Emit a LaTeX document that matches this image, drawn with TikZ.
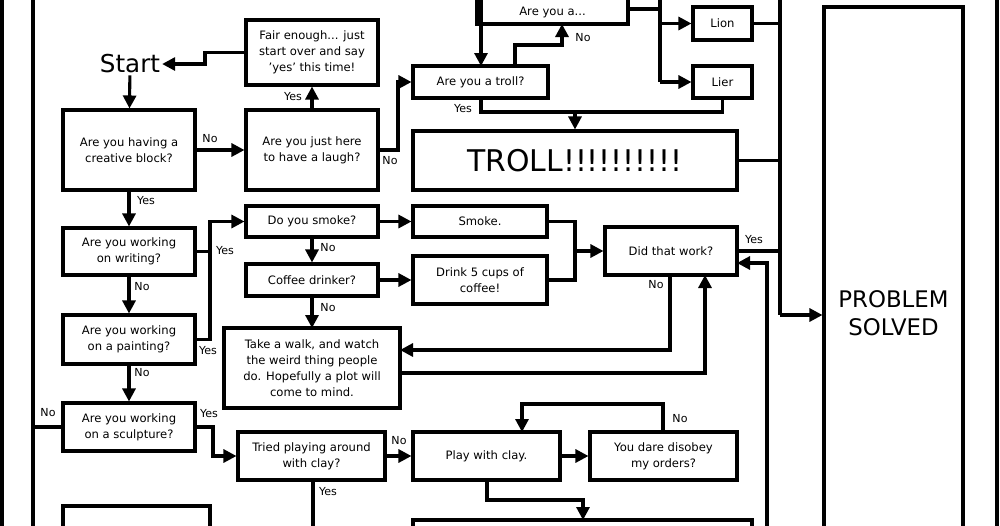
\documentclass[tikz,border=0pt]{standalone}
\usepackage{fontspec}
\setmainfont{DejaVu Sans}
\usetikzlibrary{arrows.meta}
\newcommand\bx[6]{\node[box,minimum width={0.02cm*(#4-#2)},minimum height={0.02cm*(#5-#3)}] (#1) at ({(#2+#4)/2},{(#3+#5)/2}) {#6};}
\begin{document}
\begin{tikzpicture}[x=0.02cm,y=-0.02cm,
  box/.style={draw,line width=1.75pt,align=center,inner sep=0pt,font=\fontsize{6.6}{9}\selectfont},
  ln/.style={line width=1.75pt},
  ar/.style={line width=1.75pt,-{Triangle[length=2.6mm,width=2.6mm]}},
  lab/.style={font=\fontsize{6.3}{8}\selectfont,inner sep=0pt}]
\useasboundingbox (0,0) rectangle (1000,525);
\clip (0,0) rectangle (1000,525);
\fill[white] (0,0) rectangle (1000,525);
% frame
\draw[ln] (2,-10) -- (2,540);
\draw[ln] (33,-10) -- (33,540);
\draw[ln] (997,-10) -- (997,540);
\coordinate (cA) at (780,0);
\coordinate (cB) at (575,0);
\coordinate (cC) at (210,0);
\node[font=\fontsize{14}{16}\selectfont,inner sep=1pt] (start) at (130,64) {Start};
\bx{fair}{246}{20}{378}{85}{Fair enough... just\\start over and say\\'yes' this time!}
\bx{creative}{63}{110}{195}{190}{Are you having a\\creative block?}
\bx{laugh}{246}{110}{378}{190}{Are you just here\\to have a laugh?}
\bx{troll}{413}{66}{548}{98}{Are you a troll?}
\bx{areyoua}{477}{-10}{628}{24}{\\[2pt]Are you a...}
\bx{lion}{693}{7}{752}{40}{Lion}
\bx{lier}{693}{66}{752}{98}{Lier}
\node[box,minimum width={0.02cm*324},minimum height={0.02cm*59},font=\fontsize{17}{20}\selectfont] (TROLL) at (575,160.5) {TROLL!!!!!!!!!!};
\bx{smoke}{246}{206}{378}{237}{Do you smoke?}
\bx{coffee}{246}{264}{378}{296}{Coffee drinker?}
\bx{smk}{413}{206}{547}{237}{Smoke.}
\bx{drink}{413}{256}{547}{304}{Drink 5 cups of\\coffee!}
\bx{did}{605}{227}{737}{275}{Did that work?}
\bx{walk}{224}{328}{400}{408}{Take a walk, and watch\\the weird thing people\\do. Hopefully a plot will\\come to mind.}
\bx{writing}{63}{228}{195}{275}{Are you working\\on writing?}
\bx{painting}{63}{315}{195}{364}{Are you working\\on a painting?}
\bx{sculpt}{63}{403}{195}{451}{Are you working\\on a sculpture?}
\bx{tried}{238}{432}{385}{480}{Tried playing around\\with clay?}
\bx{play}{413}{432}{560}{480}{Play with clay.}
\bx{disobey}{590}{432}{737}{480}{You dare disobey\\my orders?}
\bx{bl}{63}{506}{210}{600}{}
\bx{bb}{413}{520}{752}{600}{}
\node[box,minimum width={0.02cm*139},minimum height={0.02cm*560}] (ps) at (893.5,287) {};
\node[font=\fontsize{13}{16}\selectfont,align=center] (pst) at (893.5,313) {PROBLEM\\SOLVED};
% connectors
\draw[ar] (start) -- (creative);
\draw[ar] (fair.west) -- (205,52.5) -- (205,64) -- (start.east);
\draw[ar] (laugh) -- (fair);
\node[lab] at (293,97) {Yes};
\draw[ar] (creative) -- (laugh);
\node[lab] at (210,139) {No};
\draw[ar] (laugh.east) -- (398,150) -- (398,82) -- (troll.west);
\node[lab] at (390,161) {No};
\draw[ar] (515,66) -- (515,45) -- (562,45) -- (562,24);
\node[lab] at (583,38) {No};
\draw[ar] (481,-5) -- (481,66);
\draw[ln] (628,9) -- (660,9);
\draw[ln] (660,-10) -- (660,82);
\draw[ar] (660,23.5) -- (lion.west);
\draw[ar] (660,82) -- (lier.west);
\draw[ln] (780,-10) -- (780,315);
\draw[ar] (780,315) -- (ps.west |- 0,315);
\draw[ln] (lion.east) -- (cA |- lion.east);
\draw[ln] (TROLL.east) -- (cA |- TROLL.east);
\draw[ln] (did.east) -- (cA |- did.east);
\node[lab] at (754,240) {Yes};
\draw[ln] (481,98) -- (481,112) -- (722.5,112) -- (lier.south);
\draw[ar] (575,112) -- (TROLL.north);
\node[lab] at (463,109) {Yes};
\draw[ar] (creative) -- (writing);
\node[lab] at (146,201) {Yes};
\draw[ar] (writing) -- (painting);
\node[lab] at (142,287) {No};
\draw[ar] (painting) -- (sculpt);
\node[lab] at (142,373) {No};
\draw[ln] (writing.east) -- (cC |- writing.east);
\draw[ar] (painting.east) -- (cC |- painting.east) -- (cC |- smoke.west) -- (smoke.west);
\node[lab] at (225,251) {Yes};
\node[lab] at (208,351) {Yes};
\draw[ln] (sculpt.west) -- (33,427);
\node[lab] at (48,413) {No};
\draw[ar] (sculpt.east) -- (213,427) -- (213,456) -- (tried.west);
\node[lab] at (209,414) {Yes};
\draw[ar] (tried) -- (play);
\node[lab] at (399,441) {No};
\draw[ar] (play) -- (disobey);
\draw[ar] (663,432) -- (663,404) -- (522,404) -- (522,432);
\node[lab] at (680,419) {No};
\draw[ar] (487,480) -- (487,500) -- (583,500) -- (583,520);
\draw[ln] (313,480) -- (313,540);
\node[lab] at (328,492) {Yes};
\draw[ar] (smoke) -- (smk);
\draw[ar] (smoke) -- (coffee);
\node[lab] at (328,248) {No};
\draw[ar] (coffee) -- (drink);
\draw[ar] (312,296) -- (312,328);
\node[lab] at (328,308) {No};
\draw[ln] (smk.east) -- (cB |- smk.east) -- (cB |- drink.east) -- (drink.east);
\draw[ar] (575,251) -- (did.west);
\draw[ar] (670,275) -- (670,350) -- (400,350);
\node[lab] at (656,285) {No};
\draw[ar] (400,373) -- (705,373) -- (705,275);
\draw[ar] (767,540) -- (767,263) -- (737,263);
\end{tikzpicture}
\end{document}
